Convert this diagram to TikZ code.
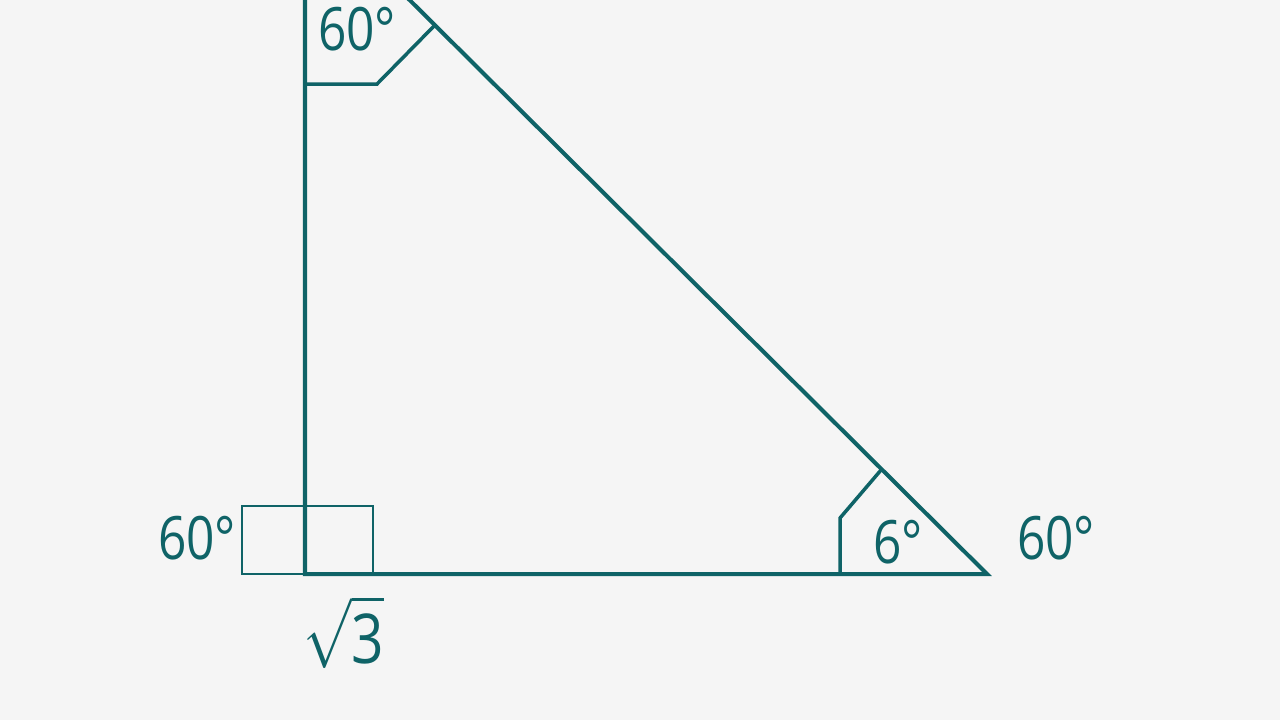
\documentclass[tikz,border=0pt]{standalone}
\usepackage{fontspec}
\usepackage{graphicx}
\setmainfont{Open Sans}
\definecolor{teal1}{HTML}{0F6367}
\definecolor{bgc}{HTML}{F5F5F5}
\newcommand{\narrowtxt}[1]{\scalebox{0.83}[1]{#1}}
\tikzset{
  tri/.style={draw=teal1, line width=1.15pt, line join=miter},
  amark/.style={draw=teal1, line width=1pt},
  rbox/.style={draw=teal1, line width=0.7pt},
  lbl/.style={text=teal1, font=\fontsize{17}{20}\selectfont, inner sep=0pt}
}
\begin{document}
\begin{tikzpicture}[x=0.01cm,y=-0.01cm]
\useasboundingbox (0,0) rectangle (1280,720);
\fill[bgc] (0,0) rectangle (1280,720);
\clip (0,0) rectangle (1280,720);
\coordinate (A) at (305,-104);
\coordinate (B) at (305,574);
\coordinate (C) at (987,574);
\coordinate (t1) at (305,84);
\coordinate (t2) at (377,84);
\coordinate (t3) at (435,25);
\coordinate (r1) at (840,574);
\coordinate (r2) at (840,518);
\coordinate (r3) at (881,470);
\draw[rbox] (242,506) rectangle (373,574);
\draw[amark] (t1) -- (t2) -- (t3);
\draw[amark] (r1) -- (r2) -- (r3);
\draw[tri] (A) -- (B) -- (C) -- cycle;
\node[lbl] (la) at (357,29) {\narrowtxt{60°}};
\node[lbl] (lb) at (197,538) {\narrowtxt{60°}};
\node[lbl] (lc) at (344,632) {\scalebox{0.95}[1.15]{$\sqrt{\mbox{3}\rule{0pt}{0.82em}}$}};
\node[lbl] (ld) at (898,542) {\narrowtxt{6°}};
\node[lbl] (le) at (1056,538) {\narrowtxt{60°}};
\end{tikzpicture}
\end{document}
